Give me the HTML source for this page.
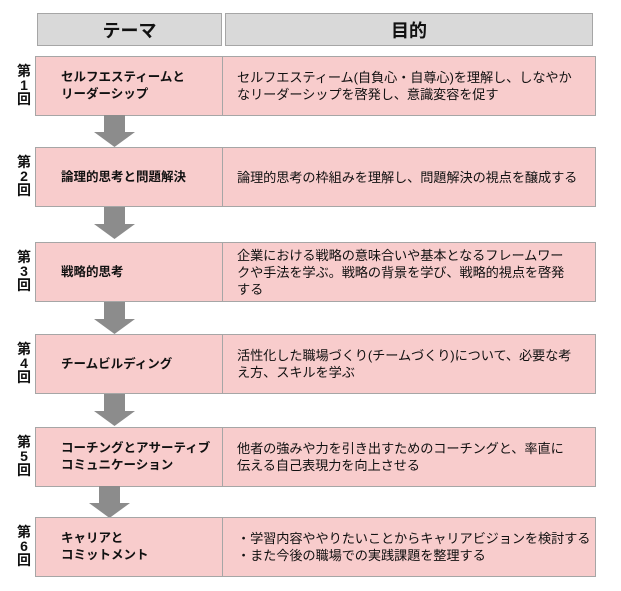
<!DOCTYPE html>
<html><head><meta charset="utf-8"><style>
body{margin:0;width:621px;height:591px;background:#fff;position:relative;overflow:hidden;font-family:"Liberation Sans","Noto Sans CJK JP",sans-serif;color:#111}
.h{position:absolute;top:13px;height:33px;background:#d9d9d9;border:1px solid #a6a6a6;box-sizing:border-box;font-weight:bold;font-size:18px;display:flex;align-items:center;justify-content:center}
.r{position:absolute;left:35px;width:561px;height:60px;background:#f8cccc;border:1px solid #a6a6a6;box-sizing:border-box}
.r .d{position:absolute;left:186px;top:0;bottom:0;border-left:1px solid #a6a6a6}
.t{position:absolute;left:25px;top:0;bottom:0;display:flex;align-items:center;font-size:12.5px;font-weight:bold;line-height:17px;white-space:nowrap}
.p{position:absolute;left:201px;top:0;bottom:0;display:flex;align-items:center;font-size:13.2px;line-height:17px;white-space:nowrap;letter-spacing:-0.1px}
.n{position:absolute;left:15px;width:18px;text-align:center;font-weight:bold;font-size:14px;line-height:14px}
.a{position:absolute;left:94px;width:41px;height:32px}
</style></head><body>
<div class="h" style="left:37px;width:185px">テーマ</div>
<div class="h" style="left:225px;width:368px">目的</div>

<div class="n" style="top:64px">第<br>1<br>回</div>
<div class="r" style="top:56px"><div class="d"></div><div class="t">セルフエスティームと<br>リーダーシップ</div><div class="p">セルフエスティーム(自負心・自尊心)を理解し、しなやか<br>なリーダーシップを啓発し、意識変容を促す</div></div>
<svg class="a" style="top:115px" viewBox="0 0 41 32"><polygon points="10,0 31,0 31,17 41,17 20.5,32 0,17 10,17" fill="#8c8c8c"/></svg>

<div class="n" style="top:155px">第<br>2<br>回</div>
<div class="r" style="top:147px"><div class="d"></div><div class="t">論理的思考と問題解決</div><div class="p">論理的思考の枠組みを理解し、問題解決の視点を醸成する</div></div>
<svg class="a" style="top:207px" viewBox="0 0 41 32"><polygon points="10,0 31,0 31,17 41,17 20.5,32 0,17 10,17" fill="#8c8c8c"/></svg>

<div class="n" style="top:250px">第<br>3<br>回</div>
<div class="r" style="top:242px"><div class="d"></div><div class="t">戦略的思考</div><div class="p">企業における戦略の意味合いや基本となるフレームワー<br>クや手法を学ぶ。戦略の背景を学び、戦略的視点を啓発<br>する</div></div>
<svg class="a" style="top:302px" viewBox="0 0 41 32"><polygon points="10,0 31,0 31,17 41,17 20.5,32 0,17 10,17" fill="#8c8c8c"/></svg>

<div class="n" style="top:342px">第<br>4<br>回</div>
<div class="r" style="top:334px"><div class="d"></div><div class="t">チームビルディング</div><div class="p">活性化した職場づくり(チームづくり)について、必要な考<br>え方、スキルを学ぶ</div></div>
<svg class="a" style="top:394px" viewBox="0 0 41 32"><polygon points="10,0 31,0 31,17 41,17 20.5,32 0,17 10,17" fill="#8c8c8c"/></svg>

<div class="n" style="top:435px">第<br>5<br>回</div>
<div class="r" style="top:427px"><div class="d"></div><div class="t">コーチングとアサーティブ<br>コミュニケーション</div><div class="p">他者の強みや力を引き出すためのコーチングと、率直に<br>伝える自己表現力を向上させる</div></div>
<svg class="a" style="top:486px;left:89px" viewBox="0 0 41 32"><polygon points="10,0 31,0 31,17 41,17 20.5,32 0,17 10,17" fill="#8c8c8c"/></svg>

<div class="n" style="top:525px">第<br>6<br>回</div>
<div class="r" style="top:517px"><div class="d"></div><div class="t">キャリアと<br>コミットメント</div><div class="p">・学習内容ややりたいことからキャリアビジョンを検討する<br>・また今後の職場での実践課題を整理する</div></div>
</body></html>
